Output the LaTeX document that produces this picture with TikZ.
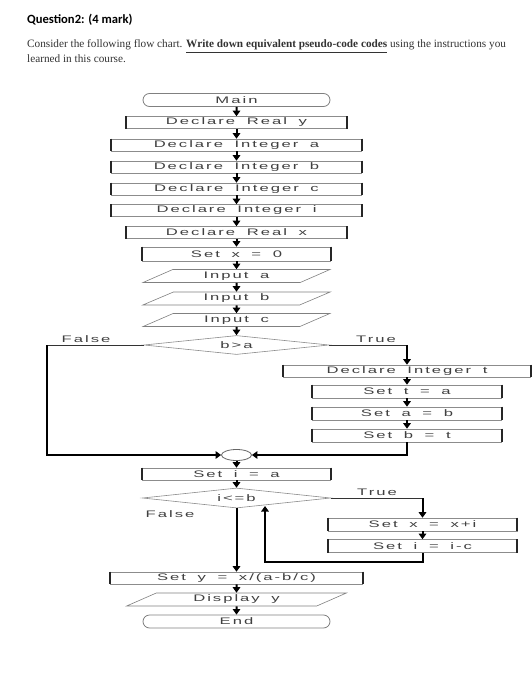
\documentclass[tikz,border=0pt]{standalone}
\usepackage{fontspec}
\usepackage{graphicx}
\setmainfont{Liberation Serif}
\newfontfamily\qfont{Carlito}
\newfontfamily\flowfont[LetterSpace=12]{Liberation Sans}
\usetikzlibrary{shapes.geometric,shapes.misc,arrows.meta}
\newcommand{\ft}[1]{\scalebox{1.75}[1]{\flowfont\fontsize{9.5}{10}\selectfont\spaceskip=0.7em #1}}
\tikzset{
  proc/.style={draw=black!45, line width=0.6pt, rectangle, minimum height=12pt, inner sep=0pt, text=black!75},
  side/.style={line width=1.8pt, black!85},
  term/.style={draw=black!50, line width=0.8pt, rounded rectangle, minimum width=187pt, minimum height=13pt, inner sep=0pt, text=black!75},
  iobox/.style={draw=black!50, line width=0.6pt, trapezium, trapezium left angle=29, trapezium right angle=151, trapezium stretches=true, minimum height=13pt, inner sep=0pt, text=black!75},
  decis/.style={draw=black!45, line width=0.6pt, diamond, aspect=9.7, minimum width=185pt, minimum height=19pt, inner sep=0pt, text=black!75},
  arr/.style={line width=2pt, black, -{Triangle[width=7.5pt,length=5.5pt]}},
  thinl/.style={line width=1pt, black!80},
  lbl/.style={text=black!75, inner sep=0pt}
}
\begin{document}
\begin{tikzpicture}[x=1pt,y=-1pt]
\fill[white] (0,0) rectangle (531,700);
\useasboundingbox (0,0) rectangle (531,700);
% header
\node[anchor=base west, inner sep=0pt, font=\qfont\bfseries\fontsize{12.6}{14}\selectfont] (q) at (27,24) {Question2: (4 mark)};
\node[anchor=base west, inner sep=0pt, text=black!80, font=\fontsize{11.25}{13}\selectfont] (p1) at (27,48) {Consider the following flow chart. \textbf{\underline{Write down equivalent pseudo-code codes}} using the instructions you};
\node[anchor=base west, inner sep=0pt, text=black!80, font=\fontsize{11.25}{13}\selectfont] (p2) at (27,63) {learned in this course.};
% main column
\def\cx{236.5}
\node[term] (main) at (\cx,100) {\ft{Main}};
\node[proc, minimum width=221pt] (dry) at (\cx,122.5) {\ft{Declare Real y}};
\node[proc, minimum width=250pt] (dia) at (\cx,145) {\ft{Declare Integer a}};
\node[proc, minimum width=250pt] (dib) at (\cx,167) {\ft{Declare Integer b}};
\node[proc, minimum width=250pt] (dic) at (\cx,189) {\ft{Declare Integer c}};
\node[proc, minimum width=250pt] (dii) at (\cx,210.5) {\ft{Declare Integer i}};
\node[proc, minimum width=221pt] (drx) at (\cx,232.5) {\ft{Declare Real x}};
\node[proc, minimum width=188pt, minimum height=14pt] (sx0) at (\cx,254) {\ft{Set x = 0}};
\node[iobox, minimum width=188pt] (ina) at (\cx,276) {\ft{Input a}};
\node[iobox, minimum width=188pt] (inb) at (\cx,298.5) {\ft{Input b}};
\node[iobox, minimum width=188pt] (inc) at (\cx,320) {\ft{Input c}};
\node[decis] (d1) at (\cx,345) {\ft{b>a}};
% true branch 1
\node[proc, minimum width=247pt] (dit) at (407,371) {\ft{Declare Integer t}};
\node[proc, minimum width=189pt, minimum height=13pt] (sta) at (407,391.5) {\ft{Set t = a}};
\node[proc, minimum width=189pt, minimum height=13pt] (sab) at (407,413.5) {\ft{Set a = b}};
\node[proc, minimum width=189pt, minimum height=13pt] (sbt) at (407,435.5) {\ft{Set b = t}};
% connector
\node[draw=black!60, line width=0.8pt, ellipse, minimum width=30pt, minimum height=11pt, inner sep=0pt] (circ) at (\cx,455) {};
\node[proc, minimum width=188pt] (sia) at (\cx,474) {\ft{Set i = a}};
\node[decis, minimum width=188pt, minimum height=20pt] (d2) at (\cx,498) {\ft{i<=b}};
\node[proc, minimum width=189pt, minimum height=13pt] (sxx) at (422.5,524.5) {\ft{Set x = x+i}};
\node[proc, minimum width=189pt, minimum height=13pt] (sii) at (422.5,546) {\ft{Set i = i-c}};
\node[proc, minimum width=252pt] (sy) at (\cx,578) {\ft{Set y = x/(a-b/c)}};
\node[iobox, minimum width=220pt] (disp) at (\cx,599.5) {\ft{Display y}};
\node[term] (endn) at (\cx,621.5) {\ft{End}};
% thick sides
\foreach \n in {dry,dia,dib,dic,dii,drx,sx0,dit,sta,sab,sbt,sia,sxx,sii,sy}
  \draw[side] (\n.north west) -- (\n.south west) (\n.north east) -- (\n.south east);
% labels
\node[lbl] (lf1) at (86,339) {\ft{False}};
\node[lbl] (lt1) at (376,339) {\ft{True}};
\node[lbl] (lt2) at (377,492) {\ft{True}};
\node[lbl] (lf2) at (170,514) {\ft{False}};
% connectors main column
\draw[arr] (main) -- (dry);
\draw[arr] (dry) -- (dia);
\draw[arr] (dia) -- (dib);
\draw[arr] (dib) -- (dic);
\draw[arr] (dic) -- (dii);
\draw[arr] (dii) -- (drx);
\draw[arr] (drx) -- (sx0);
\draw[arr] (sx0) -- (ina);
\draw[arr] (ina) -- (inb);
\draw[arr] (inb) -- (inc);
\draw[arr] (inc) -- (d1);
% decision 1
\coordinate (fl) at (47,345);
\coordinate (tr) at (407,345);
\draw[thinl] (d1.west) -- (fl);
\draw[thinl] (d1.east) -- (tr);
\draw[arr] (fl) -- (47,455) -- (circ.west);
\draw[arr] (tr) -- (dit.north);
\draw[arr] (dit) -- (sta);
\draw[arr] (sta) -- (sab);
\draw[arr] (sab) -- (sbt);
\draw[arr] (sbt.south) -- (sbt.south |- circ) -- (circ.east);
\draw[arr] (circ) -- (sia);
\draw[arr] (sia) -- (d2);
% decision 2
\coordinate (t2) at (422.5,498);
\draw[thinl] (d2.east) -- (t2);
\draw[arr] (t2) -- (sxx.north);
\draw[arr] (sxx) -- (sii);
\coordinate (lp) at (265,506);
\draw[arr] (sii.south) -- ++(0,9) -| (lp);
\draw[arr] (d2.south) -- (sy.north);
\draw[arr] (sy) -- (disp);
\draw[arr] (disp) -- (endn);
\end{tikzpicture}
\end{document}
